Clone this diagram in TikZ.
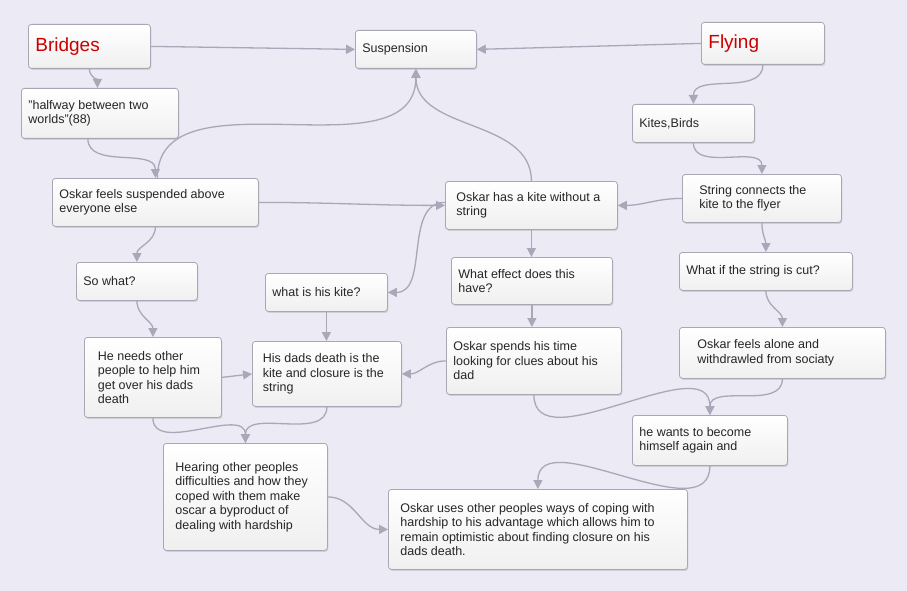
\documentclass[tikz,border=0pt]{standalone}
\usepackage{fontspec}
\setmainfont{Liberation Sans}
\usetikzlibrary{arrows.meta,shadows}
\definecolor{bg}{HTML}{ECEAF5}
\definecolor{bd}{HTML}{A8A8B4}
\definecolor{ln}{HTML}{A8A8B8}
\definecolor{ttl}{HTML}{CC0000}
\tikzset{
 box/.style={draw=bd, line width=0.8pt, rounded corners=3pt, top color=white, bottom color=gray!12,
   drop shadow={opacity=0.25,shadow xshift=1pt,shadow yshift=-1.5pt},
   anchor=north west, align=flush left, inner xsep=7pt, inner ysep=3pt,
   font=\fontsize{12.5}{14.5}\selectfont, text=black!85},
 ttlbox/.style={box, font=\fontsize{19}{22}\selectfont, text=ttl},
 con/.style={draw=ln, line width=1.3pt, -{Triangle[length=9pt,width=9pt]}},
}
\newcommand{\bx}[7][box]{\node[#1, minimum width=#4pt, minimum height=#5pt, text width=#6pt] (#2) at (#3) {#7};}
\begin{document}
\begin{tikzpicture}[x=1pt,y=-1pt]
\fill[bg] (0,0) rectangle (907,591);
\useasboundingbox (0,0) rectangle (907,591);
\bx[ttlbox]{br}{28,24}{122}{44}{108}{Bridges}
\bx{su}{355,30}{121}{38}{107}{Suspension}
\bx[ttlbox]{fl}{701,22}{123}{42}{109}{Flying}
\bx{hw}{21,88}{157}{50}{143}{"halfway between two worlds"(88)}
\bx{kb}{632,104}{122}{38}{108}{Kites,Birds}
\bx{os}{52,178}{206}{48}{192}{Oskar feels suspended above everyone else}
\bx{ok}{445,181}{172}{48}{150}{Oskar has a kite without a string}
\bx{sc}{682,174}{159}{48}{125}{String connects the kite to the flyer}
\bx{sw}{76,262}{121}{38}{107}{So what?}
\bx{wk}{265,273}{122}{38}{108}{what is his kite?}
\bx{we}{451,257}{161}{47}{147}{What effect does this have?}
\bx{wc}{679,252}{173}{38}{159}{What if the string is cut?}
\bx{hn}{84,337}{137}{80}{110}{He needs other people to help him get over his dads death}
\bx{hd}{252,341}{149}{65}{128}{His dads death is the kite and closure is the string}
\bx{sp}{446,327}{175}{67}{161}{Oskar spends his time looking for clues about his dad}
\bx{al}{679,327}{206}{51}{170}{Oskar feels alone and withdrawled from sociaty}
\bx{hw2}{632,415}{155}{50}{141}{he wants to become himself again and}
\bx{he}{163,443}{164}{107}{140}{Hearing other peoples difficulties and how they coped with them make oscar a byproduct of dealing with hardship}
\bx{ou}{388,489}{299}{80}{275}{Oskar uses other peoples ways of coping with hardship to his advantage which allows him to remain optimistic about finding closure on his dads death.}
\draw[con] (br.east) -- (su.west);
\draw[con] (fl.west) -- (su.east);
\draw[con] (br.south) to[out=-90,in=90] ([xshift=8pt]hw.north west -| br.south);
\draw[con] (fl.south) to[out=-90,in=90] (kb.north);
\draw[con] ([xshift=-12pt]hw.south) to[out=-90,in=90] (os.north);
\draw[con] ([xshift=2pt]os.north) to[out=90,in=-90] (su.south);
\draw[con] (ok.north) to[out=90,in=-90] (su.south);
\draw[con] (kb.south) to[out=-90,in=90] (sc.north);
\draw[con] (sc.west) to[out=180,in=0] (ok.east);
\draw[con] (os.east) to[out=0,in=180] (ok.west);
\draw[con] ([yshift=3pt]ok.west) to[out=180,in=0] (wk.east);
\draw[con] (ok.south) -- (we.north -| ok.south);
\draw[con] (sc.south) to[out=-90,in=90] (wc.north);
\draw[con] (os.south) to[out=-90,in=90] (sw.north);
\draw[con] (sw.south) to[out=-90,in=90] (hn.north);
\draw[con] (wk.south) -- (hd.north -| wk.south);
\draw[con] (we.south) -- (sp.north -| we.south);
\draw[con] (wc.south) to[out=-90,in=90] (al.north);
\draw[con] (hn.east) -- (hd.west);
\draw[con] (sp.west) to[out=180,in=0] (hd.east);
\draw[con] (hn.south) to[out=-90,in=90] (he.north);
\draw[con] (hd.south) to[out=-90,in=90] (he.north);
\draw[con] (sp.south) to[out=-90,in=90] (hw2.north);
\draw[con] (al.south) to[out=-90,in=90] (hw2.north);
\draw[con] (hw2.south) to[out=-90,in=90] (ou.north);
\draw[con] (he.east) to[out=0,in=180] (ou.west);
\end{tikzpicture}
\end{document}
